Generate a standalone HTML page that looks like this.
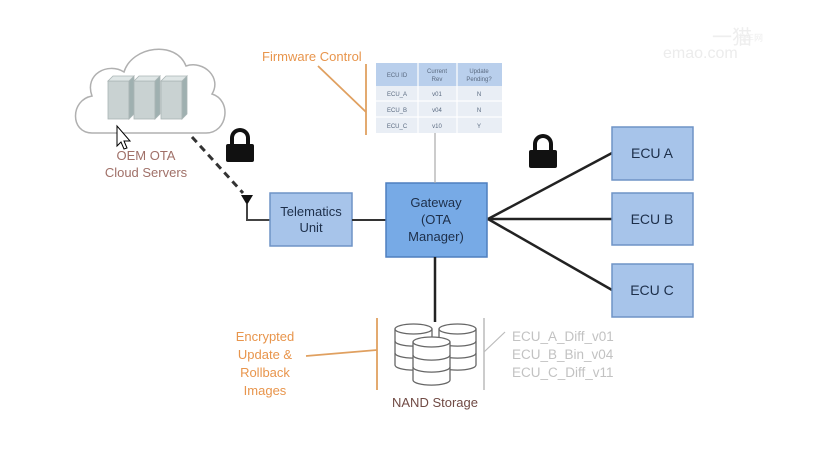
<!DOCTYPE html>
<html><head><meta charset="utf-8"><style>
html,body{margin:0;padding:0;background:#fff;}
svg{display:block;font-family:"Liberation Sans",Arial,sans-serif;}
</style></head><body>
<svg width="819" height="450" viewBox="0 0 819 450" xmlns="http://www.w3.org/2000/svg">
<rect width="819" height="450" fill="#fff"/>
<!-- watermark -->
<text x="712" y="44" font-size="20" fill="#eeeeee" font-family="'Liberation Sans','Noto Sans CJK SC',sans-serif">一猫</text>
<text x="736" y="41" font-size="9" fill="#eeeeee" font-family="'Noto Sans CJK SC',sans-serif">汽车网</text>
<text x="663" y="58" font-size="16" fill="#ececec">emao.com</text>

<!-- cloud -->
<path d="M92,133 C70,133 70,100 92,96 C84,74 108,62 124,72 C132,46 176,40 186,66 C204,60 222,78 212,94 C232,100 228,133 206,133 Z" fill="#fff" stroke="#b0b0b0" stroke-width="1.5"/>
<g fill="#c9d2d2" stroke="#aab5b5" stroke-width="0.8">
<rect x="108" y="81" width="21" height="38"/><polygon points="129,81 134,76 134,114 129,119" fill="#9fb0b0"/><polygon points="108,81 113,76 134,76 129,81" fill="#dfe6e6"/>
<rect x="134" y="81" width="21" height="38"/><polygon points="155,81 160,76 160,114 155,119" fill="#9fb0b0"/><polygon points="134,81 139,76 160,76 155,81" fill="#dfe6e6"/>
<rect x="161" y="81" width="21" height="38"/><polygon points="182,81 187,76 187,114 182,119" fill="#9fb0b0"/><polygon points="161,81 166,76 187,76 182,81" fill="#dfe6e6"/>
</g>
<text x="146" y="160" font-size="13" fill="#a07068" text-anchor="middle">OEM OTA</text>
<text x="146" y="177" font-size="13" fill="#a07068" text-anchor="middle">Cloud Servers</text>
<!-- cursor -->
<path d="M117,126 L117,146 L121,142 L124,149 L127,148 L124,141 L130,141 Z" fill="#fff" stroke="#000" stroke-width="1"/>

<!-- dashed link -->
<line x1="192" y1="137" x2="243" y2="193" stroke="#333" stroke-width="3" stroke-dasharray="7,5"/>
<polygon points="241,195 253,195 247,205" fill="#111"/>
<polyline points="247,204 247,220 270,220" fill="none" stroke="#444" stroke-width="2"/>

<!-- locks -->
<g fill="#111">
<path d="M230,144 v-6 a10,10 0 0 1 20,0 v6 h-4 v-6 a6,6 0 0 0 -12,0 v6 z"/>
<rect x="226" y="144" width="28" height="18" rx="2"/>
<path d="M533,150 v-6 a10,10 0 0 1 20,0 v6 h-4 v-6 a6,6 0 0 0 -12,0 v6 z"/>
<rect x="529" y="150" width="28" height="18" rx="2"/>
</g>

<!-- telematics -->
<rect x="270" y="193" width="82" height="53" fill="#a7c4ea" stroke="#6f93c6" stroke-width="1.5"/>
<text x="311" y="216" font-size="13" fill="#1d2f4a" text-anchor="middle">Telematics</text>
<text x="311" y="232" font-size="13" fill="#1d2f4a" text-anchor="middle">Unit</text>
<line x1="352" y1="220" x2="386" y2="220" stroke="#333" stroke-width="2"/>

<!-- gateway -->
<rect x="386" y="183" width="101" height="74" fill="#77aae6" stroke="#4f7fbf" stroke-width="1.5"/>
<text x="436" y="207" font-size="13" fill="#1d2f4a" text-anchor="middle">Gateway</text>
<text x="436" y="224" font-size="13" fill="#1d2f4a" text-anchor="middle">(OTA</text>
<text x="436" y="241" font-size="13" fill="#1d2f4a" text-anchor="middle">Manager)</text>

<!-- fan -->
<g stroke="#222" stroke-width="2.5">
<line x1="488" y1="219" x2="612" y2="153"/>
<line x1="488" y1="219" x2="612" y2="219"/>
<line x1="488" y1="219" x2="612" y2="290"/>
</g>
<g fill="#a7c4ea" stroke="#6f93c6" stroke-width="1.5">
<rect x="612" y="127" width="81" height="53"/>
<rect x="612" y="193" width="81" height="52"/>
<rect x="612" y="264" width="81" height="53"/>
</g>
<g font-size="14" fill="#1d2f4a" text-anchor="middle">
<text x="652" y="158">ECU A</text>
<text x="652" y="224">ECU B</text>
<text x="652" y="295">ECU C</text>
</g>

<!-- table -->
<line x1="435" y1="133" x2="435" y2="183" stroke="#aaa" stroke-width="1.2"/>
<rect x="376" y="63" width="126" height="23" fill="#b9cfec"/>
<rect x="376" y="86" width="126" height="47" fill="#e9eef5"/>
<g stroke="#fff" stroke-width="1.2">
<line x1="376" y1="101" x2="502" y2="101"/><line x1="376" y1="117" x2="502" y2="117"/>
<line x1="418" y1="63" x2="418" y2="133"/><line x1="457" y1="63" x2="457" y2="133"/>
</g>
<g font-size="6" fill="#5a6a80" text-anchor="middle">
<text x="397" y="77">ECU ID</text><text x="437" y="73">Current</text><text x="437" y="81">Rev</text>
<text x="479" y="73">Update</text><text x="479" y="81">Pending?</text>
<text x="397" y="96">ECU_A</text><text x="437" y="96">v01</text><text x="479" y="96">N</text>
<text x="397" y="112">ECU_B</text><text x="437" y="112">v04</text><text x="479" y="112">N</text>
<text x="397" y="128">ECU_C</text><text x="437" y="128">v10</text><text x="479" y="128">Y</text>
</g>
<text x="262" y="61" font-size="13" fill="#e8954c">Firmware Control</text>
<line x1="318" y1="66" x2="366" y2="112" stroke="#e0a060" stroke-width="1.8"/>
<line x1="366" y1="64" x2="366" y2="135" stroke="#e0a060" stroke-width="1.8"/>

<!-- NAND -->
<line x1="435" y1="257" x2="435" y2="322" stroke="#222" stroke-width="2.5"/>
<g fill="#fff" stroke="#666" stroke-width="1.3">
<path d="M395,329 v36 a18,5 0 0 0 37,0 v-36"/><ellipse cx="413.5" cy="329" rx="18.5" ry="5"/>
<path d="M395,341 a18,5 0 0 0 37,0 M395,353 a18,5 0 0 0 37,0" fill="none"/>
<path d="M439,329 v36 a18,5 0 0 0 37,0 v-36"/><ellipse cx="457.5" cy="329" rx="18.5" ry="5"/>
<path d="M439,341 a18,5 0 0 0 37,0 M439,353 a18,5 0 0 0 37,0" fill="none"/>
<path d="M413,342 v38 a18,5 0 0 0 37,0 v-38"/><ellipse cx="431.5" cy="342" rx="18.5" ry="5"/>
<path d="M413,355 a18,5 0 0 0 37,0 M413,367 a18,5 0 0 0 37,0" fill="none"/>
</g>
<text x="435" y="407" font-size="13" fill="#704a44" text-anchor="middle">NAND Storage</text>
<line x1="377" y1="318" x2="377" y2="390" stroke="#e0a060" stroke-width="1.8"/>
<line x1="306" y1="356" x2="377" y2="350" stroke="#e0a060" stroke-width="1.8"/>
<g font-size="13" fill="#e8954c" text-anchor="middle">
<text x="265" y="341">Encrypted</text><text x="265" y="359">Update &amp;</text>
<text x="265" y="377">Rollback</text><text x="265" y="395">Images</text>
</g>
<line x1="484" y1="318" x2="484" y2="390" stroke="#bbb" stroke-width="1.5"/>
<line x1="484" y1="352" x2="505" y2="332" stroke="#bbb" stroke-width="1.2"/>
<g font-size="13.5" fill="#c2c2c2">
<text x="512" y="341">ECU_A_Diff_v01</text>
<text x="512" y="359">ECU_B_Bin_v04</text>
<text x="512" y="377">ECU_C_Diff_v11</text>
</g>
</svg>
</body></html>
